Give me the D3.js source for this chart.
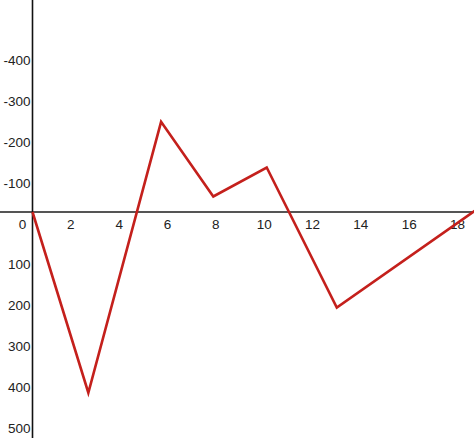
<!DOCTYPE html>
<html>
<head>
<meta charset="utf-8">
<script src="https://cdn.jsdelivr.net/npm/d3@7"></script>
<style>
  html, body { margin: 0; padding: 0; background: #fff; }
  svg { display: block; }
  text { font-family: "Liberation Sans", Arial, sans-serif; font-size: 13.5px; fill: #222; }
</style>
</head>
<body>
<svg id="chart" width="474" height="438"></svg>
<script>
// Data
const xValues = [0, 2.31, 5.32, 7.48, 9.69, 12.59, 18.3];
const yValues = [0, 443, -221, -38, -109, 234, -3];
const xTickValues = [0, 2, 4, 6, 8, 10, 12, 14, 16, 18];
const yTickValues = [-400, -300, -200, -100, 100, 200, 300, 400, 500];

const W = 474, H = 438;
const svg = d3.select("#chart");

// Scales (origin at 32.5, 212)
const x = d3.scaleLinear().domain([0, 18]).range([32.5, 32.5 + 18 * 24.17]);
const y = d3.scaleLinear().domain([0, 500]).range([212, 212 + 5 * 40.8]);

// Axes lines
svg.append("line")
  .attr("x1", 0).attr("x2", W)
  .attr("y1", y(0)).attr("y2", y(0))
  .attr("stroke", "#555").attr("stroke-width", 2);
svg.append("line")
  .attr("x1", x(0)).attr("x2", x(0))
  .attr("y1", 0).attr("y2", H)
  .attr("stroke", "#111").attr("stroke-width", 1.6);

// X tick labels (drawn slightly left of tick, below axis)
svg.append("g").selectAll("text")
  .data(xTickValues)
  .join("text")
  .attr("x", d => x(d) - 10)
  .attr("y", y(0) + 12)
  .attr("text-anchor", "middle")
  .attr("dominant-baseline", "central")
  .text(d => d);

// Y tick labels (right aligned, drawn below their tick)
svg.append("g").selectAll("text")
  .data(yTickValues)
  .join("text")
  .attr("x", x(0) - 2)
  .attr("y", d => y(d) + 12)
  .attr("text-anchor", "end")
  .attr("dominant-baseline", "central")
  .text(d => d);

// Data line
const pts = xValues.map((v, i) => [v, yValues[i]]);
svg.append("path")
  .datum(pts)
  .attr("fill", "none")
  .attr("stroke", "#c4201c")
  .attr("stroke-width", 2.6)
  .attr("stroke-linejoin", "miter")
  .attr("d", d3.line().x(d => x(d[0])).y(d => y(d[1])));
</script>
</body>
</html>
